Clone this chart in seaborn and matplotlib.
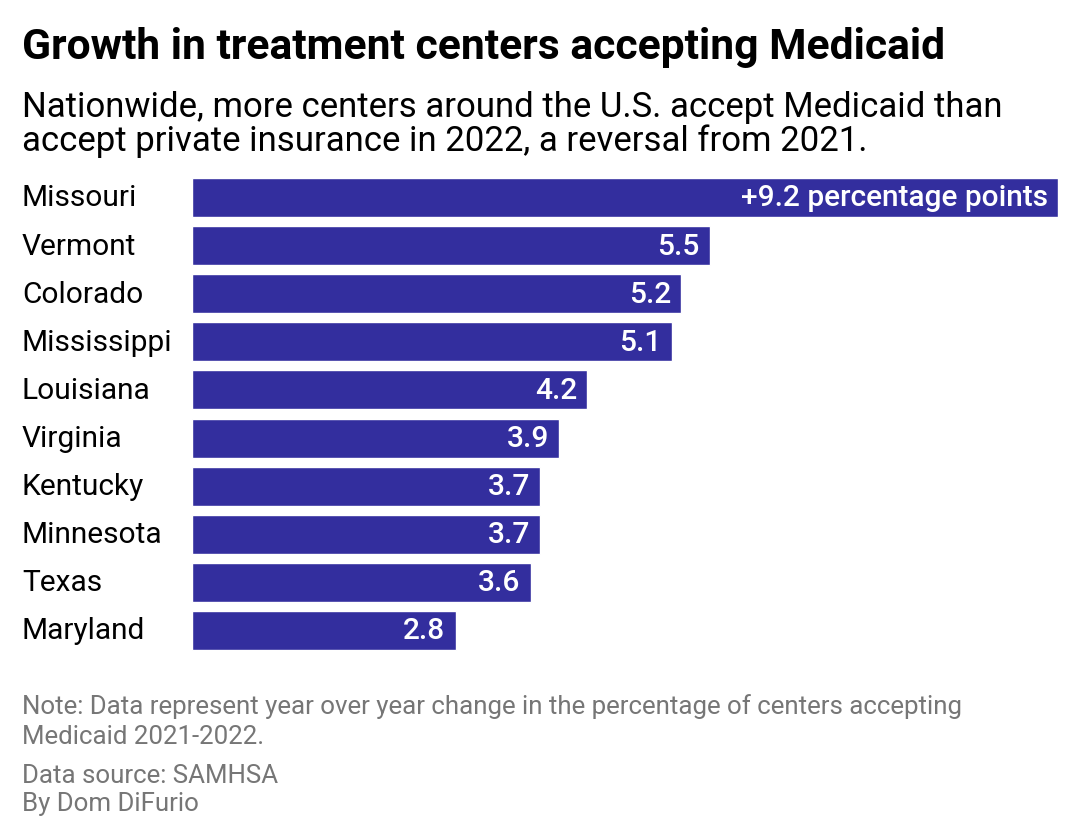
import matplotlib
matplotlib.use("Agg")
import matplotlib.pyplot as plt
import seaborn as sns
import pandas as pd

states = ["Missouri", "Vermont", "Colorado", "Mississippi", "Louisiana",
          "Virginia", "Kentucky", "Minnesota", "Texas", "Maryland"]
change = [9.2, 5.5, 5.2, 5.1, 4.2, 3.9, 3.7, 3.7, 3.6, 2.8]
value_labels = ["+9.2 percentage points", "5.5", "5.2", "5.1", "4.2",
                "3.9", "3.7", "3.7", "3.6", "2.8"]

title = "Growth in treatment centers accepting Medicaid"
subtitle = ["Nationwide, more centers around the U.S. accept Medicaid than",
            "accept private insurance in 2022, a reversal from 2021."]
footer = ["Note: Data represent year over year change in the percentage of centers accepting",
          "Medicaid 2021-2022.",
          "Data source: SAMHSA",
          "By Dom DiFurio"]

sns.set_theme(style="white")
plt.rcParams['font.family'] = ['Roboto', 'DejaVu Sans']

bar_color = "#332e9e"
grey = "#767676"

df = pd.DataFrame({"state": states, "change": change})

fig = plt.figure(figsize=(10.8, 8.4), dpi=100)
ax = fig.add_axes([0.1778, 0.2208, 0.8018, 0.5727])

sns.barplot(data=df, x="change", y="state", orient="h", color=bar_color,
            saturation=1, width=0.81, ax=ax)

ax.set_xlim(0, 9.2)
ax.set_ylim(9.5, -0.5)
ax.set_xlabel("")
ax.set_ylabel("")
ax.set_xticks([])
ax.set_yticklabels([])
ax.tick_params(left=False)
sns.despine(ax=ax, left=True, bottom=True)

for i, (s, v, lab) in enumerate(zip(states, change, value_labels)):
    ax.text(v - 0.11, i + 0.02, lab, ha="right", va="center", color="white",
            fontsize=21.5, fontweight="medium")
    fig.text(22 / 1080, 1 - (198.5 + 48.1 * i) / 840, s, ha="left", va="center",
             fontsize=21.5, color="black")

def put(y_px, txt, **kw):
    fig.text(22 / 1080, 1 - y_px / 840, txt, ha="left", va="baseline", **kw)

put(59, title, fontsize=30.7, fontweight="bold", color="black")
put(117, subtitle[0], fontsize=25, color="black")
put(151, subtitle[1], fontsize=25, color="black")
put(714, footer[0], fontsize=18.6, color=grey)
put(744, footer[1], fontsize=18.6, color=grey)
put(783, footer[2], fontsize=18.6, color=grey)
put(811, footer[3], fontsize=18.6, color=grey)

fig.savefig("out.png", dpi=100, facecolor="white")
